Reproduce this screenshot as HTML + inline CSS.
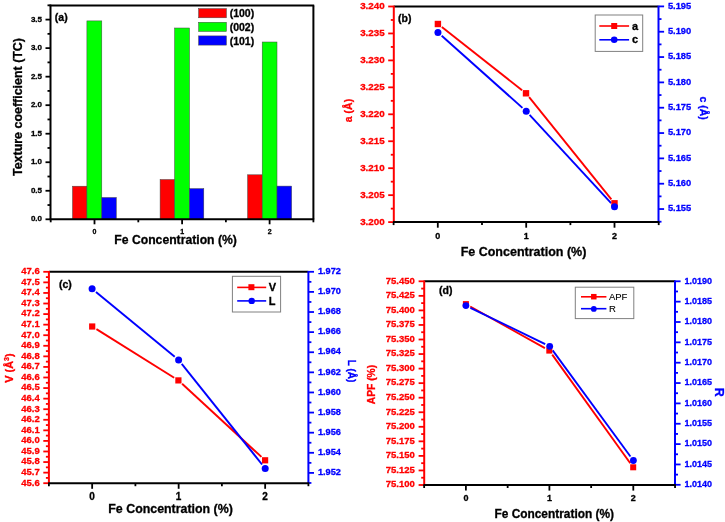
<!DOCTYPE html>
<html><head><meta charset="utf-8"><style>
html,body{margin:0;padding:0;background:#fff;}
svg{display:block;font-family:"Liberation Sans", sans-serif;filter:blur(0.3px);}
</style></head><body>
<svg width="725" height="522" viewBox="0 0 725 522">
<rect width="725" height="522" fill="#fff"/>
<rect x="72.50" y="186.20" width="14.40" height="33.10" fill="#FF0000" stroke="#444" stroke-width="0.5"/>
<rect x="86.90" y="20.90" width="14.90" height="198.40" fill="#00FF00" stroke="#444" stroke-width="0.5"/>
<rect x="101.80" y="197.50" width="14.50" height="21.80" fill="#0000FF" stroke="#444" stroke-width="0.5"/>
<rect x="160.10" y="179.50" width="14.50" height="39.80" fill="#FF0000" stroke="#444" stroke-width="0.5"/>
<rect x="174.60" y="28.00" width="14.90" height="191.30" fill="#00FF00" stroke="#444" stroke-width="0.5"/>
<rect x="189.50" y="188.60" width="14.30" height="30.70" fill="#0000FF" stroke="#444" stroke-width="0.5"/>
<rect x="247.60" y="174.80" width="14.60" height="44.50" fill="#FF0000" stroke="#444" stroke-width="0.5"/>
<rect x="262.20" y="42.00" width="14.80" height="177.30" fill="#00FF00" stroke="#444" stroke-width="0.5"/>
<rect x="277.00" y="186.10" width="14.60" height="33.20" fill="#0000FF" stroke="#444" stroke-width="0.5"/>
<line x1="49.70" y1="5.50" x2="314.20" y2="5.50" stroke="#000" stroke-width="2.0"/>
<line x1="313.40" y1="5.50" x2="313.40" y2="219.30" stroke="#000" stroke-width="2.0"/>
<line x1="50.50" y1="4.70" x2="50.50" y2="220.10" stroke="#000" stroke-width="2.0"/>
<line x1="45.50" y1="219.30" x2="50.50" y2="219.30" stroke="#000" stroke-width="1.8"/>
<line x1="45.50" y1="190.77" x2="50.50" y2="190.77" stroke="#000" stroke-width="1.8"/>
<line x1="45.50" y1="162.24" x2="50.50" y2="162.24" stroke="#000" stroke-width="1.8"/>
<line x1="45.50" y1="133.71" x2="50.50" y2="133.71" stroke="#000" stroke-width="1.8"/>
<line x1="45.50" y1="105.19" x2="50.50" y2="105.19" stroke="#000" stroke-width="1.8"/>
<line x1="45.50" y1="76.66" x2="50.50" y2="76.66" stroke="#000" stroke-width="1.8"/>
<line x1="45.50" y1="48.13" x2="50.50" y2="48.13" stroke="#000" stroke-width="1.8"/>
<line x1="45.50" y1="19.60" x2="50.50" y2="19.60" stroke="#000" stroke-width="1.8"/>
<line x1="47.50" y1="205.04" x2="50.50" y2="205.04" stroke="#000" stroke-width="1.8"/>
<line x1="47.50" y1="176.51" x2="50.50" y2="176.51" stroke="#000" stroke-width="1.8"/>
<line x1="47.50" y1="147.98" x2="50.50" y2="147.98" stroke="#000" stroke-width="1.8"/>
<line x1="47.50" y1="119.45" x2="50.50" y2="119.45" stroke="#000" stroke-width="1.8"/>
<line x1="47.50" y1="90.92" x2="50.50" y2="90.92" stroke="#000" stroke-width="1.8"/>
<line x1="47.50" y1="62.39" x2="50.50" y2="62.39" stroke="#000" stroke-width="1.8"/>
<line x1="47.50" y1="33.86" x2="50.50" y2="33.86" stroke="#000" stroke-width="1.8"/>
<line x1="47.50" y1="5.34" x2="50.50" y2="5.34" stroke="#000" stroke-width="1.8"/>
<text x="42.00" y="221.20" font-size="8" fill="#000" stroke="#000" stroke-width="0.3" text-anchor="end" font-weight="bold">0.0</text>
<text x="42.00" y="192.67" font-size="8" fill="#000" stroke="#000" stroke-width="0.3" text-anchor="end" font-weight="bold">0.5</text>
<text x="42.00" y="164.14" font-size="8" fill="#000" stroke="#000" stroke-width="0.3" text-anchor="end" font-weight="bold">1.0</text>
<text x="42.00" y="135.61" font-size="8" fill="#000" stroke="#000" stroke-width="0.3" text-anchor="end" font-weight="bold">1.5</text>
<text x="42.00" y="107.09" font-size="8" fill="#000" stroke="#000" stroke-width="0.3" text-anchor="end" font-weight="bold">2.0</text>
<text x="42.00" y="78.56" font-size="8" fill="#000" stroke="#000" stroke-width="0.3" text-anchor="end" font-weight="bold">2.5</text>
<text x="42.00" y="50.03" font-size="8" fill="#000" stroke="#000" stroke-width="0.3" text-anchor="end" font-weight="bold">3.0</text>
<text x="42.00" y="21.50" font-size="8" fill="#000" stroke="#000" stroke-width="0.3" text-anchor="end" font-weight="bold">3.5</text>
<line x1="49.70" y1="219.30" x2="314.20" y2="219.30" stroke="#000" stroke-width="2.0"/>
<line x1="94.50" y1="219.30" x2="94.50" y2="224.30" stroke="#000" stroke-width="1.8"/>
<text x="94.50" y="234.00" font-size="7" fill="#000" stroke="#000" stroke-width="0.3" text-anchor="middle" font-weight="bold">0</text>
<line x1="182.10" y1="219.30" x2="182.10" y2="224.30" stroke="#000" stroke-width="1.8"/>
<text x="182.10" y="234.00" font-size="7" fill="#000" stroke="#000" stroke-width="0.3" text-anchor="middle" font-weight="bold">1</text>
<line x1="269.60" y1="219.30" x2="269.60" y2="224.30" stroke="#000" stroke-width="1.8"/>
<text x="269.60" y="234.00" font-size="7" fill="#000" stroke="#000" stroke-width="0.3" text-anchor="middle" font-weight="bold">2</text>
<line x1="50.70" y1="219.30" x2="50.70" y2="222.30" stroke="#000" stroke-width="1.8"/>
<line x1="138.30" y1="219.30" x2="138.30" y2="222.30" stroke="#000" stroke-width="1.8"/>
<line x1="225.90" y1="219.30" x2="225.90" y2="222.30" stroke="#000" stroke-width="1.8"/>
<line x1="313.40" y1="219.30" x2="313.40" y2="222.30" stroke="#000" stroke-width="1.8"/>
<text x="175.60" y="244.20" font-size="12.2" fill="#000" stroke="#000" stroke-width="0.3" text-anchor="middle" font-weight="bold">Fe Concentration (%)</text>
<text x="21.80" y="107.00" font-size="12.45" fill="#000" stroke="#000" stroke-width="0.3" text-anchor="middle" font-weight="bold" transform="rotate(-90 21.80 107.00)">Texture coefficient (TC)</text>
<text x="54.80" y="20.80" font-size="10.5" fill="#000" stroke="#000" stroke-width="0.3" text-anchor="start" font-weight="bold">(a)</text>
<rect x="198.6" y="8.60" width="27.8" height="9.2" fill="#FF0000" stroke="#444" stroke-width="0.5"/>
<text x="229.70" y="17.30" font-size="10.5" fill="#000" stroke="#000" stroke-width="0.3" text-anchor="start" font-weight="bold">(100)</text>
<rect x="198.6" y="22.25" width="27.8" height="9.2" fill="#00FF00" stroke="#444" stroke-width="0.5"/>
<text x="229.70" y="30.95" font-size="10.5" fill="#000" stroke="#000" stroke-width="0.3" text-anchor="start" font-weight="bold">(002)</text>
<rect x="198.6" y="35.90" width="27.8" height="9.2" fill="#0000FF" stroke="#444" stroke-width="0.5"/>
<text x="229.70" y="44.60" font-size="10.5" fill="#000" stroke="#000" stroke-width="0.3" text-anchor="start" font-weight="bold">(101)</text>
<line x1="393.80" y1="6.50" x2="658.50" y2="6.50" stroke="#000" stroke-width="2.0"/>
<line x1="393.80" y1="5.70" x2="393.80" y2="222.90" stroke="#FF0000" stroke-width="2.0"/>
<line x1="388.20" y1="222.10" x2="393.80" y2="222.10" stroke="#FF0000" stroke-width="1.8"/>
<line x1="388.20" y1="195.15" x2="393.80" y2="195.15" stroke="#FF0000" stroke-width="1.8"/>
<line x1="388.20" y1="168.20" x2="393.80" y2="168.20" stroke="#FF0000" stroke-width="1.8"/>
<line x1="388.20" y1="141.25" x2="393.80" y2="141.25" stroke="#FF0000" stroke-width="1.8"/>
<line x1="388.20" y1="114.30" x2="393.80" y2="114.30" stroke="#FF0000" stroke-width="1.8"/>
<line x1="388.20" y1="87.35" x2="393.80" y2="87.35" stroke="#FF0000" stroke-width="1.8"/>
<line x1="388.20" y1="60.40" x2="393.80" y2="60.40" stroke="#FF0000" stroke-width="1.8"/>
<line x1="388.20" y1="33.45" x2="393.80" y2="33.45" stroke="#FF0000" stroke-width="1.8"/>
<line x1="388.20" y1="6.50" x2="393.80" y2="6.50" stroke="#FF0000" stroke-width="1.8"/>
<line x1="390.80" y1="208.63" x2="393.80" y2="208.63" stroke="#FF0000" stroke-width="1.8"/>
<line x1="390.80" y1="181.68" x2="393.80" y2="181.68" stroke="#FF0000" stroke-width="1.8"/>
<line x1="390.80" y1="154.73" x2="393.80" y2="154.73" stroke="#FF0000" stroke-width="1.8"/>
<line x1="390.80" y1="127.77" x2="393.80" y2="127.77" stroke="#FF0000" stroke-width="1.8"/>
<line x1="390.80" y1="100.83" x2="393.80" y2="100.83" stroke="#FF0000" stroke-width="1.8"/>
<line x1="390.80" y1="73.88" x2="393.80" y2="73.88" stroke="#FF0000" stroke-width="1.8"/>
<line x1="390.80" y1="46.93" x2="393.80" y2="46.93" stroke="#FF0000" stroke-width="1.8"/>
<line x1="390.80" y1="19.97" x2="393.80" y2="19.97" stroke="#FF0000" stroke-width="1.8"/>
<text x="384.70" y="224.60" font-size="9.8" fill="#FF0000" stroke="#FF0000" stroke-width="0.3" text-anchor="end" font-weight="bold">3.200</text>
<text x="384.70" y="197.65" font-size="9.8" fill="#FF0000" stroke="#FF0000" stroke-width="0.3" text-anchor="end" font-weight="bold">3.205</text>
<text x="384.70" y="170.70" font-size="9.8" fill="#FF0000" stroke="#FF0000" stroke-width="0.3" text-anchor="end" font-weight="bold">3.210</text>
<text x="384.70" y="143.75" font-size="9.8" fill="#FF0000" stroke="#FF0000" stroke-width="0.3" text-anchor="end" font-weight="bold">3.215</text>
<text x="384.70" y="116.80" font-size="9.8" fill="#FF0000" stroke="#FF0000" stroke-width="0.3" text-anchor="end" font-weight="bold">3.220</text>
<text x="384.70" y="89.85" font-size="9.8" fill="#FF0000" stroke="#FF0000" stroke-width="0.3" text-anchor="end" font-weight="bold">3.225</text>
<text x="384.70" y="62.90" font-size="9.8" fill="#FF0000" stroke="#FF0000" stroke-width="0.3" text-anchor="end" font-weight="bold">3.230</text>
<text x="384.70" y="35.95" font-size="9.8" fill="#FF0000" stroke="#FF0000" stroke-width="0.3" text-anchor="end" font-weight="bold">3.235</text>
<text x="384.70" y="9.00" font-size="9.8" fill="#FF0000" stroke="#FF0000" stroke-width="0.3" text-anchor="end" font-weight="bold">3.240</text>
<line x1="658.50" y1="5.70" x2="658.50" y2="222.90" stroke="#0000FF" stroke-width="2.0"/>
<line x1="658.50" y1="209.04" x2="664.10" y2="209.04" stroke="#0000FF" stroke-width="1.8"/>
<line x1="658.50" y1="183.71" x2="664.10" y2="183.71" stroke="#0000FF" stroke-width="1.8"/>
<line x1="658.50" y1="158.38" x2="664.10" y2="158.38" stroke="#0000FF" stroke-width="1.8"/>
<line x1="658.50" y1="133.05" x2="664.10" y2="133.05" stroke="#0000FF" stroke-width="1.8"/>
<line x1="658.50" y1="107.72" x2="664.10" y2="107.72" stroke="#0000FF" stroke-width="1.8"/>
<line x1="658.50" y1="82.39" x2="664.10" y2="82.39" stroke="#0000FF" stroke-width="1.8"/>
<line x1="658.50" y1="57.06" x2="664.10" y2="57.06" stroke="#0000FF" stroke-width="1.8"/>
<line x1="658.50" y1="31.73" x2="664.10" y2="31.73" stroke="#0000FF" stroke-width="1.8"/>
<line x1="658.50" y1="6.40" x2="664.10" y2="6.40" stroke="#0000FF" stroke-width="1.8"/>
<line x1="658.50" y1="196.37" x2="661.50" y2="196.37" stroke="#0000FF" stroke-width="1.8"/>
<line x1="658.50" y1="171.04" x2="661.50" y2="171.04" stroke="#0000FF" stroke-width="1.8"/>
<line x1="658.50" y1="145.71" x2="661.50" y2="145.71" stroke="#0000FF" stroke-width="1.8"/>
<line x1="658.50" y1="120.38" x2="661.50" y2="120.38" stroke="#0000FF" stroke-width="1.8"/>
<line x1="658.50" y1="95.06" x2="661.50" y2="95.06" stroke="#0000FF" stroke-width="1.8"/>
<line x1="658.50" y1="69.72" x2="661.50" y2="69.72" stroke="#0000FF" stroke-width="1.8"/>
<line x1="658.50" y1="44.39" x2="661.50" y2="44.39" stroke="#0000FF" stroke-width="1.8"/>
<line x1="658.50" y1="19.06" x2="661.50" y2="19.06" stroke="#0000FF" stroke-width="1.8"/>
<line x1="658.50" y1="221.71" x2="661.50" y2="221.71" stroke="#0000FF" stroke-width="1.8"/>
<text x="667.90" y="211.34" font-size="9.3" fill="#0000FF" stroke="#0000FF" stroke-width="0.3" text-anchor="start" font-weight="bold">5.155</text>
<text x="667.90" y="186.01" font-size="9.3" fill="#0000FF" stroke="#0000FF" stroke-width="0.3" text-anchor="start" font-weight="bold">5.160</text>
<text x="667.90" y="160.68" font-size="9.3" fill="#0000FF" stroke="#0000FF" stroke-width="0.3" text-anchor="start" font-weight="bold">5.165</text>
<text x="667.90" y="135.35" font-size="9.3" fill="#0000FF" stroke="#0000FF" stroke-width="0.3" text-anchor="start" font-weight="bold">5.170</text>
<text x="667.90" y="110.02" font-size="9.3" fill="#0000FF" stroke="#0000FF" stroke-width="0.3" text-anchor="start" font-weight="bold">5.175</text>
<text x="667.90" y="84.69" font-size="9.3" fill="#0000FF" stroke="#0000FF" stroke-width="0.3" text-anchor="start" font-weight="bold">5.180</text>
<text x="667.90" y="59.36" font-size="9.3" fill="#0000FF" stroke="#0000FF" stroke-width="0.3" text-anchor="start" font-weight="bold">5.185</text>
<text x="667.90" y="34.03" font-size="9.3" fill="#0000FF" stroke="#0000FF" stroke-width="0.3" text-anchor="start" font-weight="bold">5.190</text>
<text x="667.90" y="8.70" font-size="9.3" fill="#0000FF" stroke="#0000FF" stroke-width="0.3" text-anchor="start" font-weight="bold">5.195</text>
<line x1="393.00" y1="222.10" x2="659.30" y2="222.10" stroke="#000" stroke-width="2.0"/>
<line x1="437.80" y1="222.10" x2="437.80" y2="227.70" stroke="#000" stroke-width="1.8"/>
<text x="437.80" y="239.00" font-size="9" fill="#000" stroke="#000" stroke-width="0.3" text-anchor="middle" font-weight="bold">0</text>
<line x1="526.20" y1="222.10" x2="526.20" y2="227.70" stroke="#000" stroke-width="1.8"/>
<text x="526.20" y="239.00" font-size="9" fill="#000" stroke="#000" stroke-width="0.3" text-anchor="middle" font-weight="bold">1</text>
<line x1="614.50" y1="222.10" x2="614.50" y2="227.70" stroke="#000" stroke-width="1.8"/>
<text x="614.50" y="239.00" font-size="9" fill="#000" stroke="#000" stroke-width="0.3" text-anchor="middle" font-weight="bold">2</text>
<line x1="393.60" y1="222.10" x2="393.60" y2="225.10" stroke="#000" stroke-width="1.8"/>
<line x1="482.00" y1="222.10" x2="482.00" y2="225.10" stroke="#000" stroke-width="1.8"/>
<line x1="570.40" y1="222.10" x2="570.40" y2="225.10" stroke="#000" stroke-width="1.8"/>
<line x1="658.70" y1="222.10" x2="658.70" y2="225.10" stroke="#000" stroke-width="1.8"/>
<text x="523.50" y="256.00" font-size="12.5" fill="#000" stroke="#000" stroke-width="0.3" text-anchor="middle" font-weight="bold">Fe Concentration (%)</text>
<text x="352.20" y="110.50" font-size="10.5" fill="#FF0000" stroke="#FF0000" stroke-width="0.3" text-anchor="middle" font-weight="bold" transform="rotate(-90 352.20 110.50)">a (Å)</text>
<text x="699.60" y="108.20" font-size="10.5" fill="#0000FF" stroke="#0000FF" stroke-width="0.3" text-anchor="middle" font-weight="bold" transform="rotate(90 699.60 108.20)">c (Å)</text>
<text x="398.00" y="21.80" font-size="10.5" fill="#000" stroke="#000" stroke-width="0.3" text-anchor="start" font-weight="bold">(b)</text>
<line x1="441.83" y1="27.09" x2="522.07" y2="90.21" stroke="#FF0000" stroke-width="1.9"/>
<line x1="529.13" y1="97.20" x2="611.37" y2="199.40" stroke="#FF0000" stroke-width="1.9"/>
<line x1="441.68" y1="35.83" x2="522.47" y2="107.87" stroke="#0000FF" stroke-width="1.9"/>
<line x1="529.59" y1="114.87" x2="611.11" y2="203.03" stroke="#0000FF" stroke-width="1.9"/>
<rect x="434.70" y="20.80" width="6.40" height="6.40" fill="#FF0000"/>
<rect x="522.80" y="90.10" width="6.40" height="6.40" fill="#FF0000"/>
<rect x="611.30" y="200.10" width="6.40" height="6.40" fill="#FF0000"/>
<circle cx="437.95" cy="32.50" r="3.50" fill="#0000FF"/>
<circle cx="526.20" cy="111.20" r="3.50" fill="#0000FF"/>
<circle cx="614.50" cy="206.70" r="3.50" fill="#0000FF"/>
<rect x="595.2" y="15.0" width="47.5" height="36.4" fill="none" stroke="#808080" stroke-width="1"/>
<line x1="599.30" y1="26.00" x2="629.10" y2="26.00" stroke="#FF0000" stroke-width="1.6"/>
<rect x="611.20" y="23.00" width="6.00" height="6.00" fill="#FF0000"/>
<line x1="599.30" y1="39.80" x2="629.10" y2="39.80" stroke="#0000FF" stroke-width="1.6"/>
<circle cx="614.20" cy="39.80" r="3.30" fill="#0000FF"/>
<text x="631.90" y="29.90" font-size="11" fill="#000" stroke="#000" stroke-width="0.3" text-anchor="start" font-weight="bold">a</text>
<text x="631.90" y="42.90" font-size="11" fill="#000" stroke="#000" stroke-width="0.3" text-anchor="start" font-weight="bold">c</text>
<line x1="48.90" y1="271.80" x2="308.40" y2="271.80" stroke="#000" stroke-width="2.0"/>
<line x1="48.90" y1="271.00" x2="48.90" y2="484.00" stroke="#FF0000" stroke-width="2.0"/>
<line x1="43.30" y1="483.20" x2="48.90" y2="483.20" stroke="#FF0000" stroke-width="1.8"/>
<line x1="43.30" y1="472.63" x2="48.90" y2="472.63" stroke="#FF0000" stroke-width="1.8"/>
<line x1="43.30" y1="462.06" x2="48.90" y2="462.06" stroke="#FF0000" stroke-width="1.8"/>
<line x1="43.30" y1="451.49" x2="48.90" y2="451.49" stroke="#FF0000" stroke-width="1.8"/>
<line x1="43.30" y1="440.92" x2="48.90" y2="440.92" stroke="#FF0000" stroke-width="1.8"/>
<line x1="43.30" y1="430.35" x2="48.90" y2="430.35" stroke="#FF0000" stroke-width="1.8"/>
<line x1="43.30" y1="419.78" x2="48.90" y2="419.78" stroke="#FF0000" stroke-width="1.8"/>
<line x1="43.30" y1="409.21" x2="48.90" y2="409.21" stroke="#FF0000" stroke-width="1.8"/>
<line x1="43.30" y1="398.64" x2="48.90" y2="398.64" stroke="#FF0000" stroke-width="1.8"/>
<line x1="43.30" y1="388.07" x2="48.90" y2="388.07" stroke="#FF0000" stroke-width="1.8"/>
<line x1="43.30" y1="377.50" x2="48.90" y2="377.50" stroke="#FF0000" stroke-width="1.8"/>
<line x1="43.30" y1="366.93" x2="48.90" y2="366.93" stroke="#FF0000" stroke-width="1.8"/>
<line x1="43.30" y1="356.36" x2="48.90" y2="356.36" stroke="#FF0000" stroke-width="1.8"/>
<line x1="43.30" y1="345.79" x2="48.90" y2="345.79" stroke="#FF0000" stroke-width="1.8"/>
<line x1="43.30" y1="335.22" x2="48.90" y2="335.22" stroke="#FF0000" stroke-width="1.8"/>
<line x1="43.30" y1="324.65" x2="48.90" y2="324.65" stroke="#FF0000" stroke-width="1.8"/>
<line x1="43.30" y1="314.08" x2="48.90" y2="314.08" stroke="#FF0000" stroke-width="1.8"/>
<line x1="43.30" y1="303.51" x2="48.90" y2="303.51" stroke="#FF0000" stroke-width="1.8"/>
<line x1="43.30" y1="292.94" x2="48.90" y2="292.94" stroke="#FF0000" stroke-width="1.8"/>
<line x1="43.30" y1="282.37" x2="48.90" y2="282.37" stroke="#FF0000" stroke-width="1.8"/>
<line x1="43.30" y1="271.80" x2="48.90" y2="271.80" stroke="#FF0000" stroke-width="1.8"/>
<line x1="45.90" y1="477.92" x2="48.90" y2="477.92" stroke="#FF0000" stroke-width="1.8"/>
<line x1="45.90" y1="467.35" x2="48.90" y2="467.35" stroke="#FF0000" stroke-width="1.8"/>
<line x1="45.90" y1="456.77" x2="48.90" y2="456.77" stroke="#FF0000" stroke-width="1.8"/>
<line x1="45.90" y1="446.21" x2="48.90" y2="446.21" stroke="#FF0000" stroke-width="1.8"/>
<line x1="45.90" y1="435.64" x2="48.90" y2="435.64" stroke="#FF0000" stroke-width="1.8"/>
<line x1="45.90" y1="425.07" x2="48.90" y2="425.07" stroke="#FF0000" stroke-width="1.8"/>
<line x1="45.90" y1="414.50" x2="48.90" y2="414.50" stroke="#FF0000" stroke-width="1.8"/>
<line x1="45.90" y1="403.93" x2="48.90" y2="403.93" stroke="#FF0000" stroke-width="1.8"/>
<line x1="45.90" y1="393.36" x2="48.90" y2="393.36" stroke="#FF0000" stroke-width="1.8"/>
<line x1="45.90" y1="382.79" x2="48.90" y2="382.79" stroke="#FF0000" stroke-width="1.8"/>
<line x1="45.90" y1="372.22" x2="48.90" y2="372.22" stroke="#FF0000" stroke-width="1.8"/>
<line x1="45.90" y1="361.65" x2="48.90" y2="361.65" stroke="#FF0000" stroke-width="1.8"/>
<line x1="45.90" y1="351.07" x2="48.90" y2="351.07" stroke="#FF0000" stroke-width="1.8"/>
<line x1="45.90" y1="340.51" x2="48.90" y2="340.51" stroke="#FF0000" stroke-width="1.8"/>
<line x1="45.90" y1="329.94" x2="48.90" y2="329.94" stroke="#FF0000" stroke-width="1.8"/>
<line x1="45.90" y1="319.37" x2="48.90" y2="319.37" stroke="#FF0000" stroke-width="1.8"/>
<line x1="45.90" y1="308.80" x2="48.90" y2="308.80" stroke="#FF0000" stroke-width="1.8"/>
<line x1="45.90" y1="298.23" x2="48.90" y2="298.23" stroke="#FF0000" stroke-width="1.8"/>
<line x1="45.90" y1="287.66" x2="48.90" y2="287.66" stroke="#FF0000" stroke-width="1.8"/>
<line x1="45.90" y1="277.09" x2="48.90" y2="277.09" stroke="#FF0000" stroke-width="1.8"/>
<text x="39.80" y="485.50" font-size="9.5" fill="#FF0000" stroke="#FF0000" stroke-width="0.3" text-anchor="end" font-weight="bold">45.6</text>
<text x="39.80" y="474.93" font-size="9.5" fill="#FF0000" stroke="#FF0000" stroke-width="0.3" text-anchor="end" font-weight="bold">45.7</text>
<text x="39.80" y="464.36" font-size="9.5" fill="#FF0000" stroke="#FF0000" stroke-width="0.3" text-anchor="end" font-weight="bold">45.8</text>
<text x="39.80" y="453.79" font-size="9.5" fill="#FF0000" stroke="#FF0000" stroke-width="0.3" text-anchor="end" font-weight="bold">45.9</text>
<text x="39.80" y="443.22" font-size="9.5" fill="#FF0000" stroke="#FF0000" stroke-width="0.3" text-anchor="end" font-weight="bold">46.0</text>
<text x="39.80" y="432.65" font-size="9.5" fill="#FF0000" stroke="#FF0000" stroke-width="0.3" text-anchor="end" font-weight="bold">46.1</text>
<text x="39.80" y="422.08" font-size="9.5" fill="#FF0000" stroke="#FF0000" stroke-width="0.3" text-anchor="end" font-weight="bold">46.2</text>
<text x="39.80" y="411.51" font-size="9.5" fill="#FF0000" stroke="#FF0000" stroke-width="0.3" text-anchor="end" font-weight="bold">46.3</text>
<text x="39.80" y="400.94" font-size="9.5" fill="#FF0000" stroke="#FF0000" stroke-width="0.3" text-anchor="end" font-weight="bold">46.4</text>
<text x="39.80" y="390.37" font-size="9.5" fill="#FF0000" stroke="#FF0000" stroke-width="0.3" text-anchor="end" font-weight="bold">46.5</text>
<text x="39.80" y="379.80" font-size="9.5" fill="#FF0000" stroke="#FF0000" stroke-width="0.3" text-anchor="end" font-weight="bold">46.6</text>
<text x="39.80" y="369.23" font-size="9.5" fill="#FF0000" stroke="#FF0000" stroke-width="0.3" text-anchor="end" font-weight="bold">46.7</text>
<text x="39.80" y="358.66" font-size="9.5" fill="#FF0000" stroke="#FF0000" stroke-width="0.3" text-anchor="end" font-weight="bold">46.8</text>
<text x="39.80" y="348.09" font-size="9.5" fill="#FF0000" stroke="#FF0000" stroke-width="0.3" text-anchor="end" font-weight="bold">46.9</text>
<text x="39.80" y="337.52" font-size="9.5" fill="#FF0000" stroke="#FF0000" stroke-width="0.3" text-anchor="end" font-weight="bold">47.0</text>
<text x="39.80" y="326.95" font-size="9.5" fill="#FF0000" stroke="#FF0000" stroke-width="0.3" text-anchor="end" font-weight="bold">47.1</text>
<text x="39.80" y="316.38" font-size="9.5" fill="#FF0000" stroke="#FF0000" stroke-width="0.3" text-anchor="end" font-weight="bold">47.2</text>
<text x="39.80" y="305.81" font-size="9.5" fill="#FF0000" stroke="#FF0000" stroke-width="0.3" text-anchor="end" font-weight="bold">47.3</text>
<text x="39.80" y="295.24" font-size="9.5" fill="#FF0000" stroke="#FF0000" stroke-width="0.3" text-anchor="end" font-weight="bold">47.4</text>
<text x="39.80" y="284.67" font-size="9.5" fill="#FF0000" stroke="#FF0000" stroke-width="0.3" text-anchor="end" font-weight="bold">47.5</text>
<text x="39.80" y="274.10" font-size="9.5" fill="#FF0000" stroke="#FF0000" stroke-width="0.3" text-anchor="end" font-weight="bold">47.6</text>
<line x1="308.40" y1="271.00" x2="308.40" y2="484.00" stroke="#0000FF" stroke-width="2.0"/>
<line x1="308.40" y1="472.90" x2="314.00" y2="472.90" stroke="#0000FF" stroke-width="1.8"/>
<line x1="308.40" y1="452.79" x2="314.00" y2="452.79" stroke="#0000FF" stroke-width="1.8"/>
<line x1="308.40" y1="432.68" x2="314.00" y2="432.68" stroke="#0000FF" stroke-width="1.8"/>
<line x1="308.40" y1="412.57" x2="314.00" y2="412.57" stroke="#0000FF" stroke-width="1.8"/>
<line x1="308.40" y1="392.46" x2="314.00" y2="392.46" stroke="#0000FF" stroke-width="1.8"/>
<line x1="308.40" y1="372.35" x2="314.00" y2="372.35" stroke="#0000FF" stroke-width="1.8"/>
<line x1="308.40" y1="352.24" x2="314.00" y2="352.24" stroke="#0000FF" stroke-width="1.8"/>
<line x1="308.40" y1="332.13" x2="314.00" y2="332.13" stroke="#0000FF" stroke-width="1.8"/>
<line x1="308.40" y1="312.02" x2="314.00" y2="312.02" stroke="#0000FF" stroke-width="1.8"/>
<line x1="308.40" y1="291.91" x2="314.00" y2="291.91" stroke="#0000FF" stroke-width="1.8"/>
<line x1="308.40" y1="271.80" x2="314.00" y2="271.80" stroke="#0000FF" stroke-width="1.8"/>
<line x1="308.40" y1="462.85" x2="311.40" y2="462.85" stroke="#0000FF" stroke-width="1.8"/>
<line x1="308.40" y1="442.74" x2="311.40" y2="442.74" stroke="#0000FF" stroke-width="1.8"/>
<line x1="308.40" y1="422.63" x2="311.40" y2="422.63" stroke="#0000FF" stroke-width="1.8"/>
<line x1="308.40" y1="402.52" x2="311.40" y2="402.52" stroke="#0000FF" stroke-width="1.8"/>
<line x1="308.40" y1="382.41" x2="311.40" y2="382.41" stroke="#0000FF" stroke-width="1.8"/>
<line x1="308.40" y1="362.30" x2="311.40" y2="362.30" stroke="#0000FF" stroke-width="1.8"/>
<line x1="308.40" y1="342.19" x2="311.40" y2="342.19" stroke="#0000FF" stroke-width="1.8"/>
<line x1="308.40" y1="322.08" x2="311.40" y2="322.08" stroke="#0000FF" stroke-width="1.8"/>
<line x1="308.40" y1="301.97" x2="311.40" y2="301.97" stroke="#0000FF" stroke-width="1.8"/>
<line x1="308.40" y1="281.86" x2="311.40" y2="281.86" stroke="#0000FF" stroke-width="1.8"/>
<line x1="308.40" y1="482.95" x2="311.40" y2="482.95" stroke="#0000FF" stroke-width="1.8"/>
<text x="317.90" y="475.10" font-size="9.2" fill="#0000FF" stroke="#0000FF" stroke-width="0.3" text-anchor="start" font-weight="bold">1.952</text>
<text x="317.90" y="454.99" font-size="9.2" fill="#0000FF" stroke="#0000FF" stroke-width="0.3" text-anchor="start" font-weight="bold">1.954</text>
<text x="317.90" y="434.88" font-size="9.2" fill="#0000FF" stroke="#0000FF" stroke-width="0.3" text-anchor="start" font-weight="bold">1.956</text>
<text x="317.90" y="414.77" font-size="9.2" fill="#0000FF" stroke="#0000FF" stroke-width="0.3" text-anchor="start" font-weight="bold">1.958</text>
<text x="317.90" y="394.66" font-size="9.2" fill="#0000FF" stroke="#0000FF" stroke-width="0.3" text-anchor="start" font-weight="bold">1.960</text>
<text x="317.90" y="374.55" font-size="9.2" fill="#0000FF" stroke="#0000FF" stroke-width="0.3" text-anchor="start" font-weight="bold">1.962</text>
<text x="317.90" y="354.44" font-size="9.2" fill="#0000FF" stroke="#0000FF" stroke-width="0.3" text-anchor="start" font-weight="bold">1.964</text>
<text x="317.90" y="334.33" font-size="9.2" fill="#0000FF" stroke="#0000FF" stroke-width="0.3" text-anchor="start" font-weight="bold">1.966</text>
<text x="317.90" y="314.22" font-size="9.2" fill="#0000FF" stroke="#0000FF" stroke-width="0.3" text-anchor="start" font-weight="bold">1.968</text>
<text x="317.90" y="294.11" font-size="9.2" fill="#0000FF" stroke="#0000FF" stroke-width="0.3" text-anchor="start" font-weight="bold">1.970</text>
<text x="317.90" y="274.00" font-size="9.2" fill="#0000FF" stroke="#0000FF" stroke-width="0.3" text-anchor="start" font-weight="bold">1.972</text>
<line x1="48.10" y1="483.20" x2="309.20" y2="483.20" stroke="#000" stroke-width="2.0"/>
<line x1="92.15" y1="483.20" x2="92.15" y2="488.80" stroke="#000" stroke-width="1.8"/>
<text x="92.15" y="500.00" font-size="10" fill="#000" stroke="#000" stroke-width="0.3" text-anchor="middle" font-weight="bold">0</text>
<line x1="178.65" y1="483.20" x2="178.65" y2="488.80" stroke="#000" stroke-width="1.8"/>
<text x="178.65" y="500.00" font-size="10" fill="#000" stroke="#000" stroke-width="0.3" text-anchor="middle" font-weight="bold">1</text>
<line x1="265.15" y1="483.20" x2="265.15" y2="488.80" stroke="#000" stroke-width="1.8"/>
<text x="265.15" y="500.00" font-size="10" fill="#000" stroke="#000" stroke-width="0.3" text-anchor="middle" font-weight="bold">2</text>
<line x1="48.90" y1="483.20" x2="48.90" y2="486.20" stroke="#000" stroke-width="1.8"/>
<line x1="135.40" y1="483.20" x2="135.40" y2="486.20" stroke="#000" stroke-width="1.8"/>
<line x1="221.90" y1="483.20" x2="221.90" y2="486.20" stroke="#000" stroke-width="1.8"/>
<line x1="308.40" y1="483.20" x2="308.40" y2="486.20" stroke="#000" stroke-width="1.8"/>
<text x="170.60" y="512.50" font-size="12.4" fill="#000" stroke="#000" stroke-width="0.3" text-anchor="middle" font-weight="bold">Fe Concentration (%)</text>
<text x="13.20" y="368.00" font-size="10.9" fill="#FF0000" stroke="#FF0000" stroke-width="0.3" text-anchor="middle" font-weight="bold" transform="rotate(-90 13.20 368.00)">V (Å<tspan font-size="7" dy="-4">3</tspan><tspan dy="4">)</tspan></text>
<text x="347.60" y="371.00" font-size="10.0" fill="#0000FF" stroke="#0000FF" stroke-width="0.3" text-anchor="middle" font-weight="bold" transform="rotate(90 347.60 371.00)">L (Å)</text>
<text x="59.00" y="288.00" font-size="10.5" fill="#000" stroke="#000" stroke-width="0.3" text-anchor="start" font-weight="bold">(c)</text>
<line x1="96.44" y1="329.15" x2="174.16" y2="377.75" stroke="#FF0000" stroke-width="1.9"/>
<line x1="182.08" y1="383.79" x2="261.42" y2="456.91" stroke="#FF0000" stroke-width="1.9"/>
<line x1="95.96" y1="291.98" x2="174.74" y2="356.82" stroke="#0000FF" stroke-width="1.9"/>
<line x1="181.72" y1="363.91" x2="262.08" y2="464.49" stroke="#0000FF" stroke-width="1.9"/>
<rect x="89.10" y="323.40" width="6.20" height="6.20" fill="#FF0000"/>
<rect x="175.30" y="377.30" width="6.20" height="6.20" fill="#FF0000"/>
<rect x="262.00" y="457.20" width="6.20" height="6.20" fill="#FF0000"/>
<circle cx="92.10" cy="288.80" r="3.50" fill="#0000FF"/>
<circle cx="178.60" cy="360.00" r="3.50" fill="#0000FF"/>
<circle cx="265.20" cy="468.40" r="3.50" fill="#0000FF"/>
<rect x="232.4" y="276.3" width="48.2" height="35.7" fill="none" stroke="#808080" stroke-width="1"/>
<line x1="237.20" y1="287.40" x2="266.20" y2="287.40" stroke="#FF0000" stroke-width="1.6"/>
<rect x="248.40" y="284.20" width="6.00" height="6.00" fill="#FF0000"/>
<line x1="237.20" y1="300.90" x2="266.20" y2="300.90" stroke="#0000FF" stroke-width="1.6"/>
<circle cx="251.70" cy="300.90" r="3.20" fill="#0000FF"/>
<text x="268.80" y="290.80" font-size="11" fill="#000" stroke="#000" stroke-width="0.3" text-anchor="start" font-weight="bold">V</text>
<text x="268.80" y="304.60" font-size="11" fill="#000" stroke="#000" stroke-width="0.3" text-anchor="start" font-weight="bold">L</text>
<line x1="424.20" y1="281.30" x2="675.00" y2="281.30" stroke="#000" stroke-width="2.0"/>
<line x1="424.20" y1="280.50" x2="424.20" y2="485.80" stroke="#FF0000" stroke-width="2.0"/>
<line x1="418.60" y1="485.00" x2="424.20" y2="485.00" stroke="#FF0000" stroke-width="1.8"/>
<line x1="418.60" y1="470.45" x2="424.20" y2="470.45" stroke="#FF0000" stroke-width="1.8"/>
<line x1="418.60" y1="455.90" x2="424.20" y2="455.90" stroke="#FF0000" stroke-width="1.8"/>
<line x1="418.60" y1="441.35" x2="424.20" y2="441.35" stroke="#FF0000" stroke-width="1.8"/>
<line x1="418.60" y1="426.80" x2="424.20" y2="426.80" stroke="#FF0000" stroke-width="1.8"/>
<line x1="418.60" y1="412.25" x2="424.20" y2="412.25" stroke="#FF0000" stroke-width="1.8"/>
<line x1="418.60" y1="397.70" x2="424.20" y2="397.70" stroke="#FF0000" stroke-width="1.8"/>
<line x1="418.60" y1="383.15" x2="424.20" y2="383.15" stroke="#FF0000" stroke-width="1.8"/>
<line x1="418.60" y1="368.60" x2="424.20" y2="368.60" stroke="#FF0000" stroke-width="1.8"/>
<line x1="418.60" y1="354.05" x2="424.20" y2="354.05" stroke="#FF0000" stroke-width="1.8"/>
<line x1="418.60" y1="339.50" x2="424.20" y2="339.50" stroke="#FF0000" stroke-width="1.8"/>
<line x1="418.60" y1="324.95" x2="424.20" y2="324.95" stroke="#FF0000" stroke-width="1.8"/>
<line x1="418.60" y1="310.40" x2="424.20" y2="310.40" stroke="#FF0000" stroke-width="1.8"/>
<line x1="418.60" y1="295.85" x2="424.20" y2="295.85" stroke="#FF0000" stroke-width="1.8"/>
<line x1="418.60" y1="281.30" x2="424.20" y2="281.30" stroke="#FF0000" stroke-width="1.8"/>
<line x1="421.20" y1="477.72" x2="424.20" y2="477.72" stroke="#FF0000" stroke-width="1.8"/>
<line x1="421.20" y1="463.17" x2="424.20" y2="463.17" stroke="#FF0000" stroke-width="1.8"/>
<line x1="421.20" y1="448.62" x2="424.20" y2="448.62" stroke="#FF0000" stroke-width="1.8"/>
<line x1="421.20" y1="434.07" x2="424.20" y2="434.07" stroke="#FF0000" stroke-width="1.8"/>
<line x1="421.20" y1="419.53" x2="424.20" y2="419.53" stroke="#FF0000" stroke-width="1.8"/>
<line x1="421.20" y1="404.97" x2="424.20" y2="404.97" stroke="#FF0000" stroke-width="1.8"/>
<line x1="421.20" y1="390.42" x2="424.20" y2="390.42" stroke="#FF0000" stroke-width="1.8"/>
<line x1="421.20" y1="375.88" x2="424.20" y2="375.88" stroke="#FF0000" stroke-width="1.8"/>
<line x1="421.20" y1="361.32" x2="424.20" y2="361.32" stroke="#FF0000" stroke-width="1.8"/>
<line x1="421.20" y1="346.78" x2="424.20" y2="346.78" stroke="#FF0000" stroke-width="1.8"/>
<line x1="421.20" y1="332.22" x2="424.20" y2="332.22" stroke="#FF0000" stroke-width="1.8"/>
<line x1="421.20" y1="317.67" x2="424.20" y2="317.67" stroke="#FF0000" stroke-width="1.8"/>
<line x1="421.20" y1="303.12" x2="424.20" y2="303.12" stroke="#FF0000" stroke-width="1.8"/>
<line x1="421.20" y1="288.57" x2="424.20" y2="288.57" stroke="#FF0000" stroke-width="1.8"/>
<text x="414.80" y="487.30" font-size="9.5" fill="#FF0000" stroke="#FF0000" stroke-width="0.3" text-anchor="end" font-weight="bold">75.100</text>
<text x="414.80" y="472.75" font-size="9.5" fill="#FF0000" stroke="#FF0000" stroke-width="0.3" text-anchor="end" font-weight="bold">75.125</text>
<text x="414.80" y="458.20" font-size="9.5" fill="#FF0000" stroke="#FF0000" stroke-width="0.3" text-anchor="end" font-weight="bold">75.150</text>
<text x="414.80" y="443.65" font-size="9.5" fill="#FF0000" stroke="#FF0000" stroke-width="0.3" text-anchor="end" font-weight="bold">75.175</text>
<text x="414.80" y="429.10" font-size="9.5" fill="#FF0000" stroke="#FF0000" stroke-width="0.3" text-anchor="end" font-weight="bold">75.200</text>
<text x="414.80" y="414.55" font-size="9.5" fill="#FF0000" stroke="#FF0000" stroke-width="0.3" text-anchor="end" font-weight="bold">75.225</text>
<text x="414.80" y="400.00" font-size="9.5" fill="#FF0000" stroke="#FF0000" stroke-width="0.3" text-anchor="end" font-weight="bold">75.250</text>
<text x="414.80" y="385.45" font-size="9.5" fill="#FF0000" stroke="#FF0000" stroke-width="0.3" text-anchor="end" font-weight="bold">75.275</text>
<text x="414.80" y="370.90" font-size="9.5" fill="#FF0000" stroke="#FF0000" stroke-width="0.3" text-anchor="end" font-weight="bold">75.300</text>
<text x="414.80" y="356.35" font-size="9.5" fill="#FF0000" stroke="#FF0000" stroke-width="0.3" text-anchor="end" font-weight="bold">75.325</text>
<text x="414.80" y="341.80" font-size="9.5" fill="#FF0000" stroke="#FF0000" stroke-width="0.3" text-anchor="end" font-weight="bold">75.350</text>
<text x="414.80" y="327.25" font-size="9.5" fill="#FF0000" stroke="#FF0000" stroke-width="0.3" text-anchor="end" font-weight="bold">75.375</text>
<text x="414.80" y="312.70" font-size="9.5" fill="#FF0000" stroke="#FF0000" stroke-width="0.3" text-anchor="end" font-weight="bold">75.400</text>
<text x="414.80" y="298.15" font-size="9.5" fill="#FF0000" stroke="#FF0000" stroke-width="0.3" text-anchor="end" font-weight="bold">75.425</text>
<text x="414.80" y="283.60" font-size="9.5" fill="#FF0000" stroke="#FF0000" stroke-width="0.3" text-anchor="end" font-weight="bold">75.450</text>
<line x1="675.00" y1="280.50" x2="675.00" y2="485.80" stroke="#0000FF" stroke-width="2.0"/>
<line x1="675.00" y1="484.80" x2="680.60" y2="484.80" stroke="#0000FF" stroke-width="1.8"/>
<line x1="675.00" y1="464.45" x2="680.60" y2="464.45" stroke="#0000FF" stroke-width="1.8"/>
<line x1="675.00" y1="444.10" x2="680.60" y2="444.10" stroke="#0000FF" stroke-width="1.8"/>
<line x1="675.00" y1="423.75" x2="680.60" y2="423.75" stroke="#0000FF" stroke-width="1.8"/>
<line x1="675.00" y1="403.40" x2="680.60" y2="403.40" stroke="#0000FF" stroke-width="1.8"/>
<line x1="675.00" y1="383.05" x2="680.60" y2="383.05" stroke="#0000FF" stroke-width="1.8"/>
<line x1="675.00" y1="362.70" x2="680.60" y2="362.70" stroke="#0000FF" stroke-width="1.8"/>
<line x1="675.00" y1="342.35" x2="680.60" y2="342.35" stroke="#0000FF" stroke-width="1.8"/>
<line x1="675.00" y1="322.00" x2="680.60" y2="322.00" stroke="#0000FF" stroke-width="1.8"/>
<line x1="675.00" y1="301.65" x2="680.60" y2="301.65" stroke="#0000FF" stroke-width="1.8"/>
<line x1="675.00" y1="281.30" x2="680.60" y2="281.30" stroke="#0000FF" stroke-width="1.8"/>
<line x1="675.00" y1="474.62" x2="678.00" y2="474.62" stroke="#0000FF" stroke-width="1.8"/>
<line x1="675.00" y1="454.27" x2="678.00" y2="454.27" stroke="#0000FF" stroke-width="1.8"/>
<line x1="675.00" y1="433.93" x2="678.00" y2="433.93" stroke="#0000FF" stroke-width="1.8"/>
<line x1="675.00" y1="413.57" x2="678.00" y2="413.57" stroke="#0000FF" stroke-width="1.8"/>
<line x1="675.00" y1="393.22" x2="678.00" y2="393.22" stroke="#0000FF" stroke-width="1.8"/>
<line x1="675.00" y1="372.87" x2="678.00" y2="372.87" stroke="#0000FF" stroke-width="1.8"/>
<line x1="675.00" y1="352.53" x2="678.00" y2="352.53" stroke="#0000FF" stroke-width="1.8"/>
<line x1="675.00" y1="332.17" x2="678.00" y2="332.17" stroke="#0000FF" stroke-width="1.8"/>
<line x1="675.00" y1="311.82" x2="678.00" y2="311.82" stroke="#0000FF" stroke-width="1.8"/>
<line x1="675.00" y1="291.47" x2="678.00" y2="291.47" stroke="#0000FF" stroke-width="1.8"/>
<text x="684.40" y="487.00" font-size="9.0" fill="#0000FF" stroke="#0000FF" stroke-width="0.3" text-anchor="start" font-weight="bold">1.0140</text>
<text x="684.40" y="466.65" font-size="9.0" fill="#0000FF" stroke="#0000FF" stroke-width="0.3" text-anchor="start" font-weight="bold">1.0145</text>
<text x="684.40" y="446.30" font-size="9.0" fill="#0000FF" stroke="#0000FF" stroke-width="0.3" text-anchor="start" font-weight="bold">1.0150</text>
<text x="684.40" y="425.95" font-size="9.0" fill="#0000FF" stroke="#0000FF" stroke-width="0.3" text-anchor="start" font-weight="bold">1.0155</text>
<text x="684.40" y="405.60" font-size="9.0" fill="#0000FF" stroke="#0000FF" stroke-width="0.3" text-anchor="start" font-weight="bold">1.0160</text>
<text x="684.40" y="385.25" font-size="9.0" fill="#0000FF" stroke="#0000FF" stroke-width="0.3" text-anchor="start" font-weight="bold">1.0165</text>
<text x="684.40" y="364.90" font-size="9.0" fill="#0000FF" stroke="#0000FF" stroke-width="0.3" text-anchor="start" font-weight="bold">1.0170</text>
<text x="684.40" y="344.55" font-size="9.0" fill="#0000FF" stroke="#0000FF" stroke-width="0.3" text-anchor="start" font-weight="bold">1.0175</text>
<text x="684.40" y="324.20" font-size="9.0" fill="#0000FF" stroke="#0000FF" stroke-width="0.3" text-anchor="start" font-weight="bold">1.0180</text>
<text x="684.40" y="303.85" font-size="9.0" fill="#0000FF" stroke="#0000FF" stroke-width="0.3" text-anchor="start" font-weight="bold">1.0185</text>
<text x="684.40" y="283.50" font-size="9.0" fill="#0000FF" stroke="#0000FF" stroke-width="0.3" text-anchor="start" font-weight="bold">1.0190</text>
<line x1="423.40" y1="485.00" x2="675.80" y2="485.00" stroke="#000" stroke-width="2.0"/>
<line x1="465.90" y1="485.00" x2="465.90" y2="490.60" stroke="#000" stroke-width="1.8"/>
<text x="465.90" y="501.00" font-size="9" fill="#000" stroke="#000" stroke-width="0.3" text-anchor="middle" font-weight="bold">0</text>
<line x1="549.40" y1="485.00" x2="549.40" y2="490.60" stroke="#000" stroke-width="1.8"/>
<text x="549.40" y="501.00" font-size="9" fill="#000" stroke="#000" stroke-width="0.3" text-anchor="middle" font-weight="bold">1</text>
<line x1="633.30" y1="485.00" x2="633.30" y2="490.60" stroke="#000" stroke-width="1.8"/>
<text x="633.30" y="501.00" font-size="9" fill="#000" stroke="#000" stroke-width="0.3" text-anchor="middle" font-weight="bold">2</text>
<line x1="424.15" y1="485.00" x2="424.15" y2="488.00" stroke="#000" stroke-width="1.8"/>
<line x1="507.65" y1="485.00" x2="507.65" y2="488.00" stroke="#000" stroke-width="1.8"/>
<line x1="591.15" y1="485.00" x2="591.15" y2="488.00" stroke="#000" stroke-width="1.8"/>
<line x1="675.05" y1="485.00" x2="675.05" y2="488.00" stroke="#000" stroke-width="1.8"/>
<text x="554.25" y="518.00" font-size="11.9" fill="#000" stroke="#000" stroke-width="0.3" text-anchor="middle" font-weight="bold">Fe Concentration (%)</text>
<text x="375.30" y="384.50" font-size="10.25" fill="#FF0000" stroke="#FF0000" stroke-width="0.3" text-anchor="middle" font-weight="bold" transform="rotate(-90 375.30 384.50)">APF (%)</text>
<text x="714.50" y="392.20" font-size="12.5" fill="#0000FF" stroke="#0000FF" stroke-width="0.3" text-anchor="middle" font-weight="bold" transform="rotate(90 714.50 392.20)">R</text>
<text x="439.10" y="294.00" font-size="10.5" fill="#000" stroke="#000" stroke-width="0.3" text-anchor="start" font-weight="bold">(d)</text>
<line x1="470.27" y1="306.53" x2="544.93" y2="348.17" stroke="#FF0000" stroke-width="1.9"/>
<line x1="552.22" y1="354.66" x2="630.28" y2="463.24" stroke="#FF0000" stroke-width="1.9"/>
<line x1="470.40" y1="307.78" x2="545.20" y2="344.12" stroke="#0000FF" stroke-width="1.9"/>
<line x1="552.66" y1="350.33" x2="630.44" y2="456.47" stroke="#0000FF" stroke-width="1.9"/>
<rect x="462.90" y="301.10" width="6.00" height="6.00" fill="#FF0000"/>
<rect x="546.30" y="347.60" width="6.00" height="6.00" fill="#FF0000"/>
<rect x="630.20" y="464.30" width="6.00" height="6.00" fill="#FF0000"/>
<circle cx="465.90" cy="305.60" r="3.40" fill="#0000FF"/>
<circle cx="549.70" cy="346.30" r="3.40" fill="#0000FF"/>
<circle cx="633.40" cy="460.50" r="3.40" fill="#0000FF"/>
<rect x="575.3" y="287.2" width="58.5" height="31.4" fill="none" stroke="#808080" stroke-width="1"/>
<line x1="581.00" y1="296.80" x2="606.40" y2="296.80" stroke="#FF0000" stroke-width="1.6"/>
<rect x="591.05" y="293.95" width="5.50" height="5.50" fill="#FF0000"/>
<line x1="581.00" y1="308.70" x2="606.40" y2="308.70" stroke="#0000FF" stroke-width="1.6"/>
<circle cx="593.80" cy="308.90" r="2.90" fill="#0000FF"/>
<text x="608.90" y="299.90" font-size="9.5" fill="#000" stroke="#000" stroke-width="0.1" text-anchor="start" font-weight="normal">APF</text>
<text x="608.90" y="312.20" font-size="9.5" fill="#000" stroke="#000" stroke-width="0.1" text-anchor="start" font-weight="normal">R</text>
</svg>
</body></html>
